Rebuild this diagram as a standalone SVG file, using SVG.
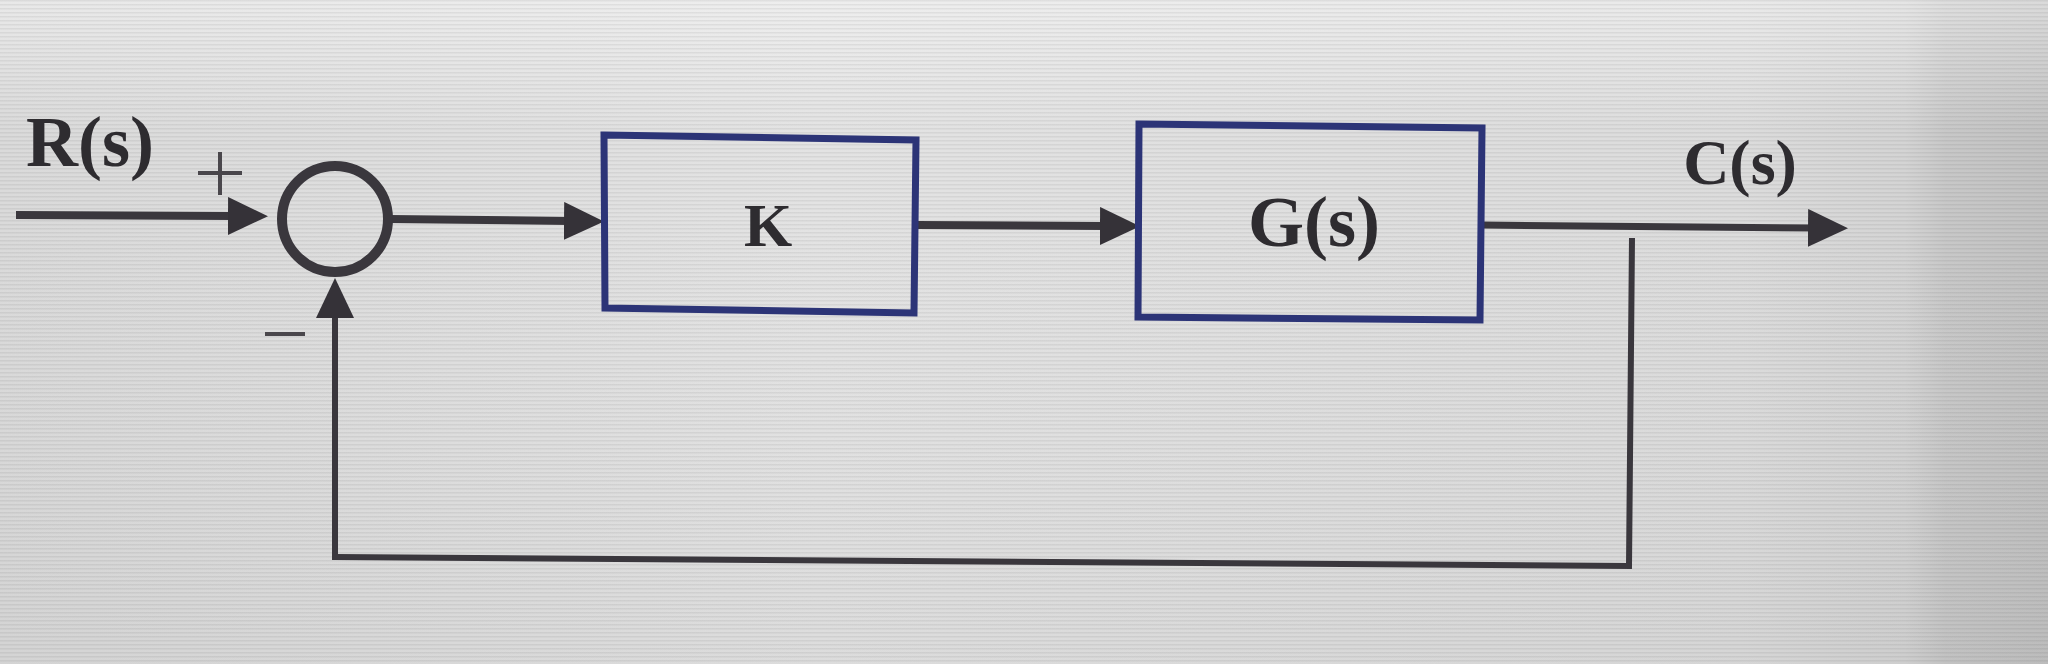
<svg xmlns="http://www.w3.org/2000/svg" width="2048" height="664" viewBox="0 0 2048 664">
  <defs>
    <linearGradient id="bg" x1="0" y1="0" x2="1" y2="0">
      <stop offset="0" stop-color="#dadada"/>
      <stop offset="0.4" stop-color="#e3e3e3"/>
      <stop offset="0.85" stop-color="#dcdcdc"/>
      <stop offset="0.93" stop-color="#d4d4d4"/>
      <stop offset="0.95" stop-color="#c8c8c8"/>
      <stop offset="1" stop-color="#c2c2c2"/>
    </linearGradient>
    <linearGradient id="bgv" x1="0" y1="0" x2="0" y2="1">
      <stop offset="0" stop-color="#ffffff" stop-opacity="0.4"/>
      <stop offset="0.2" stop-color="#ffffff" stop-opacity="0"/>
      <stop offset="1" stop-color="#000000" stop-opacity="0.03"/>
    </linearGradient>
    <pattern id="scan" width="8" height="4" patternUnits="userSpaceOnUse">
      <rect x="0" y="0" width="8" height="1.5" fill="#000" opacity="0.06"/>
    </pattern>
    <marker id="arr" markerUnits="userSpaceOnUse" markerWidth="40" markerHeight="38" refX="6" refY="19" orient="auto">
      <path d="M0,0 L40,19 L0,38 Z" fill="#353238"/>
    </marker>
    <style>
      .ln { stroke: #3a373d; fill: none; stroke-linecap: butt; }
      .box { fill: none; stroke: #2c3477; stroke-width: 7; }
      .lbl { font-family: "Liberation Serif", "Times New Roman", serif; font-weight: bold; fill: #2e2c30; }
      .sign { stroke: #4a474c; stroke-width: 4; }
    </style>
  </defs>

  <rect x="0" y="0" width="2048" height="664" fill="url(#bg)"/>
  <rect x="0" y="0" width="2048" height="664" fill="url(#bgv)"/>
  <rect x="0" y="0" width="2048" height="664" fill="url(#scan)"/>

  <g id="connectors">
    <line class="ln" x1="16" y1="215" x2="234" y2="216" stroke-width="8" marker-end="url(#arr)"/>
    <line class="ln" x1="389" y1="219" x2="570" y2="221" stroke-width="8" marker-end="url(#arr)"/>
    <line class="ln" x1="917" y1="225" x2="1106" y2="226" stroke-width="8" marker-end="url(#arr)"/>
    <line class="ln" x1="1482" y1="225" x2="1814" y2="228" stroke-width="7" marker-end="url(#arr)"/>
    <polyline class="ln" points="1632,238 1629,566 335,557" stroke-width="6"/>
    <line class="ln" x1="335" y1="560" x2="335" y2="312" stroke-width="6" marker-end="url(#arr)"/>
  </g>

  <g id="input-label">
    <text class="lbl" x="26" y="166" font-size="72">R(s)</text>
  </g>

  <g id="summing-junction">
    <circle cx="335" cy="219" r="53" fill="none" stroke="#3a373d" stroke-width="10"/>
    <line class="sign" x1="198" y1="173" x2="242" y2="173"/>
    <line class="sign" x1="220" y1="152" x2="220" y2="195"/>
    <line class="sign" x1="265" y1="334" x2="305" y2="334"/>
  </g>

  <g id="block-k">
    <polygon class="box" points="604,135 916,140 914,313 605,308"/>
    <text class="lbl" x="768" y="246" font-size="62" text-anchor="middle">K</text>
  </g>

  <g id="block-g">
    <polygon class="box" points="1139,124 1482,128 1480,320 1138,317"/>
    <text class="lbl" x="1314" y="246" font-size="72" text-anchor="middle">G(s)</text>
  </g>

  <g id="output-label">
    <text class="lbl" x="1740" y="184" font-size="64" text-anchor="middle">C(s)</text>
  </g>
</svg>
